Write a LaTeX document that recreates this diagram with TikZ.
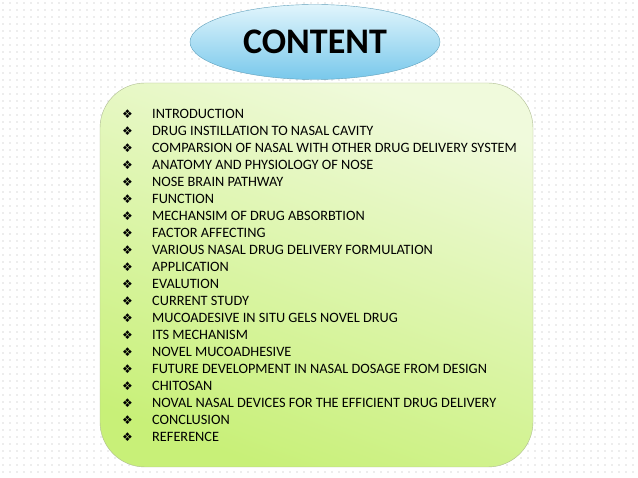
\documentclass[tikz,border=0pt]{standalone}
\usepackage{fontspec}
\setmainfont{Carlito}
\newfontfamily\symfont{DejaVu Sans}
\usetikzlibrary{shapes.geometric,positioning}
\definecolor{boxtop}{RGB}{240,250,220}
\definecolor{boxbot}{RGB}{200,240,120}
\definecolor{elltop}{RGB}{225,245,252}
\definecolor{ellbot}{RGB}{120,200,235}
\begin{document}
\begin{tikzpicture}[x=1pt,y=-1pt,
        title/.style = {ellipse, draw=ellbot!80!black, thin, top color=elltop, bottom color=ellbot,
                        minimum width=250pt, minimum height=75pt, font=\fontsize{36}{40}\selectfont\bfseries},
        panel/.style = {draw=boxbot!60!black!60, thin, rounded corners=45pt, shading=axis,
                        top color=boxtop, bottom color=boxbot, shading angle=-20},
        item/.style = {anchor=west, inner sep=0pt, font=\fontsize{14.3}{16}\selectfont},
        bullet/.style = {anchor=west, inner sep=0pt, font=\symfont\fontsize{12}{14}\selectfont},
    ]
    \useasboundingbox (0,0) rectangle (638,478);
    \fill[white] (0,0) rectangle (638,478);

    % Dotted background
    \foreach \i in {0,...,90} {
        \foreach \j in {0,...,68} {
            \fill[black!30] (3+7*\i,3+7*\j) circle (0.6pt);
        }
    }

    % Panel and title
    \path[panel] (100,83) rectangle (533,467);
    \node[title] (head) at (315,42) {CONTENT};

    % Items
    \foreach \txt [count=\n] in {INTRODUCTION, DRUG INSTILLATION TO NASAL CAVITY,
        COMPARSION OF NASAL WITH OTHER DRUG DELIVERY SYSTEM, ANATOMY AND PHYSIOLOGY OF NOSE,
        NOSE BRAIN PATHWAY, FUNCTION, MECHANSIM OF DRUG ABSORBTION, FACTOR AFFECTING,
        VARIOUS NASAL DRUG DELIVERY FORMULATION, APPLICATION, EVALUTION, CURRENT STUDY,
        MUCOADESIVE IN SITU GELS NOVEL  DRUG, ITS MECHANISM, NOVEL MUCOADHESIVE,
        FUTURE DEVELOPMENT IN NASAL DOSAGE FROM DESIGN, CHITOSAN,
        NOVAL NASAL DEVICES FOR THE EFFICIENT DRUG DELIVERY, CONCLUSION, REFERENCE} {
        \node[bullet] (m\n) at (122,114+17*\n-17) {❖};
        \node[item] (t\n) at (152,114+17*\n-17) {\txt};
    }
\end{tikzpicture}
\end{document}
